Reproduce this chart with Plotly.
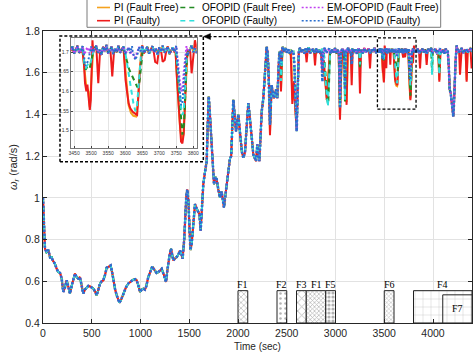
import plotly.graph_objects as go

# ---------------- data ----------------
# shared rotor-speed trace (all six controllers overlap until ~2300 s)
early = [(0, 1.00), (8, 0.85), (20, 0.757), (35, 0.74), (55, 0.75), (72, 0.715), (89, 0.716),
         (99, 0.70), (123, 0.684), (140, 0.66), (157, 0.644), (175, 0.64), (191, 0.615),
         (208, 0.549), (225, 0.57), (243, 0.605), (260, 0.57), (277, 0.541), (295, 0.58),
         (310, 0.61), (328, 0.637), (345, 0.62), (362, 0.613), (379, 0.62), (395, 0.58),
         (413, 0.541), (430, 0.56), (447, 0.57), (465, 0.578), (482, 0.575), (500, 0.57),
         (516, 0.565), (535, 0.55), (550, 0.533), (568, 0.56), (585, 0.589), (602, 0.60),
         (619, 0.605), (636, 0.63), (653, 0.665), (675, 0.67), (694, 0.676), (710, 0.64),
         (721, 0.605), (740, 0.56), (756, 0.533), (770, 0.51), (783, 0.497), (800, 0.51),
         (824, 0.541), (850, 0.57), (875, 0.589), (900, 0.60), (926, 0.608), (945, 0.61),
         (960, 0.605), (978, 0.58), (995, 0.549), (1012, 0.56), (1030, 0.565), (1045, 0.56),
         (1057, 0.573), (1080, 0.62), (1100, 0.65), (1121, 0.671), (1135, 0.66), (1149, 0.652),
         (1165, 0.64), (1183, 0.644), (1200, 0.65), (1217, 0.66), (1240, 0.63), (1262, 0.597),
         (1275, 0.65), (1286, 0.70), (1300, 0.73), (1313, 0.756), (1325, 0.73), (1337, 0.70),
         (1355, 0.71), (1371, 0.716), (1390, 0.73), (1405, 0.748), (1420, 0.73), (1432, 0.708),
         (1448, 0.80), (1460, 0.93), (1470, 1.01), (1480, 1.04), (1492, 0.98), (1503, 0.85),
         (1512, 0.75), (1525, 0.78), (1540, 0.86), (1559, 0.97), (1575, 0.95), (1593, 0.935),
         (1605, 0.92), (1617, 0.843), (1630, 0.95), (1644, 1.065), (1660, 1.12), (1679, 1.176),
         (1690, 1.36), (1700, 1.486), (1712, 1.40), (1730, 1.271), (1745, 1.13), (1754, 1.065),
         (1768, 1.10), (1781, 1.09), (1798, 1.04), (1815, 1.001), (1832, 1.03), (1845, 0.98),
         (1856, 0.954), (1870, 1.01), (1884, 1.065), (1900, 1.13), (1918, 1.19), (1930, 1.20),
         (1940, 1.30), (1952, 1.47), (1965, 1.40), (1980, 1.319), (2003, 1.399), (2015, 1.33),
         (2027, 1.271), (2040, 1.22), (2055, 1.192), (2072, 1.22), (2090, 1.35), (2106, 1.454),
         (2118, 1.40), (2130, 1.351), (2145, 1.27), (2157, 1.208), (2170, 1.19), (2185, 1.176),
         (2198, 1.256), (2210, 1.21), (2219, 1.176), (2232, 1.30), (2243, 1.414), (2260, 1.478),
         (2277, 1.60), (2294, 1.724), (2303, 1.70), (2311, 1.637), (2320, 1.48), (2328, 1.35),
         (2337, 1.45), (2345, 1.541), (2357, 1.50), (2369, 1.478), (2380, 1.50), (2390, 1.52),
         (2397, 1.50), (2403, 1.478), (2414, 1.60), (2424, 1.70), (2432, 1.70), (2441, 1.64),
         (2450, 1.70), (2458, 1.724)]

# rated-speed band (~1.70) after 2460 s, sampled every 15 s / 5 s (inset window) / 15 s
t_late_a = list(range(2470, 3440, 15))
w_late_a = [1.700, 1.718, 1.696, 1.712, 1.692, 1.706, 1.698, 1.716, 1.694, 1.708, 1.698, 1.719, 1.700,
            1.710, 1.692, 1.716, 1.698, 1.722, 1.694, 1.704, 1.714, 1.692, 1.716, 1.698, 1.710, 1.690,
            1.714, 1.700, 1.720, 1.694, 1.706, 1.716, 1.693, 1.710, 1.698, 1.718, 1.694, 1.705, 1.714,
            1.698, 1.716, 1.692, 1.710, 1.700, 1.720, 1.694, 1.706, 1.716, 1.698, 1.711, 1.691, 1.717,
            1.699, 1.709, 1.693, 1.718, 1.698, 1.706, 1.715, 1.694, 1.710, 1.700, 1.719, 1.695, 1.706]
t_late_b = list(range(3440, 3815, 5))
w_late_b = [1.705, 1.714, 1.696, 1.708, 1.716, 1.698, 1.703, 1.715, 1.694, 1.706, 1.712, 1.697, 1.714, 1.700, 1.708,
            1.716, 1.698, 1.706, 1.693, 1.713, 1.702, 1.718, 1.696, 1.707, 1.714, 1.695, 1.709, 1.700, 1.716, 1.698,
            1.708, 1.714, 1.695, 1.706, 1.712, 1.698, 1.715, 1.700, 1.709, 1.694, 1.713, 1.702, 1.717, 1.697, 1.707,
            1.713, 1.696, 1.706, 1.715, 1.699, 1.709, 1.693, 1.712, 1.701, 1.716, 1.698, 1.708, 1.714, 1.695, 1.705,
            1.712, 1.700, 1.716, 1.697, 1.707, 1.713, 1.698, 1.708, 1.715, 1.696, 1.706, 1.717, 1.700, 1.709, 1.698]
t_late_c = list(range(3815, 4401, 15))
w_late_c = [1.710, 1.698, 1.716, 1.693, 1.706, 1.715, 1.698, 1.711, 1.691, 1.714,
            1.701, 1.719, 1.695, 1.708, 1.715, 1.694, 1.706, 1.717, 1.697, 1.710,
            1.692, 1.715, 1.700, 1.720, 1.698, 1.709, 1.716, 1.693, 1.705, 1.714,
            1.698, 1.711, 1.718, 1.694, 1.706, 1.715, 1.697, 1.708, 1.717, 1.700]

# speed dips common to all controllers
shared_dips = [
    [(2568, 1.70), (2578, 1.64), (2588, 1.52), (2596, 1.40), (2602, 1.32), (2609, 1.45), (2616, 1.60), (2624, 1.70)],
    [(4152, 1.70), (4162, 1.63), (4171, 1.52), (4182, 1.50), (4194, 1.45), (4203, 1.40), (4208, 1.39),
     (4214, 1.44), (4222, 1.55), (4232, 1.66), (4243, 1.73)],
]

# controller-specific dips
dips_pi_ff = [
    [(2318, 1.56), (2328, 1.31), (2337, 1.44)],
    [(2430, 1.69), (2441, 1.52), (2452, 1.70)],
    [(2545, 1.70), (2557, 1.47), (2568, 1.55), (2588, 1.43), (2602, 1.33), (2612, 1.52), (2622, 1.70)],
    [(2855, 1.70), (2870, 1.62), (2895, 1.56), (2910, 1.48), (2930, 1.61), (2942, 1.70)],
    [(3032, 1.70), (3046, 1.39), (3064, 1.70)],
    [(3088, 1.70), (3114, 1.46), (3124, 1.70)],
    [(3475, 1.70), (3482, 1.63), (3486, 1.61), (3492, 1.60), (3496, 1.56), (3502, 1.65), (3506, 1.70)],
    [(3596, 1.70), (3603, 1.625), (3610, 1.565), (3617, 1.545), (3624, 1.538), (3632, 1.536), (3637, 1.57),
     (3643, 1.66), (3649, 1.70)],
    [(3748, 1.70), (3755, 1.59), (3761, 1.51), (3766, 1.475), (3771, 1.49), (3776, 1.58), (3783, 1.70)],
    [(4054, 1.70), (4065, 1.565), (4076, 1.70)],
    [(4335, 1.70), (4345, 1.565), (4355, 1.70)],
]
dips_pi_faulty = [
    [(2318, 1.55), (2328, 1.30), (2337, 1.43)],
    [(2430, 1.68), (2441, 1.51), (2452, 1.70)],
    [(2540, 1.70), (2550, 1.56), (2557, 1.45), (2565, 1.50), (2575, 1.56), (2588, 1.42), (2602, 1.33),
     (2612, 1.52), (2622, 1.70)],
    [(2693, 1.70), (2704, 1.65), (2713, 1.70)],
    [(2780, 1.70), (2790, 1.635), (2800, 1.70)],
    [(2850, 1.70), (2866, 1.60), (2880, 1.66), (2895, 1.55), (2910, 1.47), (2920, 1.50), (2930, 1.60), (2942, 1.70)],
    [(3032, 1.70), (3040, 1.52), (3046, 1.375), (3055, 1.55), (3064, 1.70)],
    [(3088, 1.70), (3097, 1.56), (3105, 1.50), (3114, 1.446), (3124, 1.70)],
    [(3156, 1.70), (3166, 1.54), (3176, 1.70)],
    [(3240, 1.70), (3251, 1.50), (3262, 1.70)],
    [(3344, 1.70), (3354, 1.62), (3364, 1.70)],
    [(3475, 1.70), (3479, 1.67), (3482, 1.621), (3486, 1.60), (3489, 1.617), (3492, 1.591), (3496, 1.553),
     (3499, 1.578), (3502, 1.646), (3504, 1.73), (3506, 1.70)],
    [(3516, 1.70), (3521, 1.621), (3526, 1.70)],
    [(3557, 1.70), (3562, 1.638), (3567, 1.70)],
    [(3596, 1.70), (3601, 1.629), (3606, 1.595), (3610, 1.57), (3615, 1.557), (3622, 1.548), (3628, 1.544),
     (3635, 1.54), (3638, 1.578), (3641, 1.621), (3644, 1.663), (3649, 1.697)],
    [(3684, 1.70), (3688, 1.675), (3694, 1.672), (3699, 1.70)],
    [(3706, 1.70), (3710, 1.675), (3716, 1.68), (3720, 1.70)],
    [(3748, 1.70), (3751, 1.646), (3756, 1.578), (3761, 1.501), (3764, 1.472), (3768, 1.468), (3772, 1.493),
     (3776, 1.578), (3779, 1.663), (3783, 1.706)],
    [(3791, 1.70), (3795, 1.646), (3800, 1.697), (3805, 1.73), (3810, 1.71)],
    [(3857, 1.70), (3867, 1.62), (3877, 1.70)],
    [(3925, 1.70), (3935, 1.637), (3945, 1.70)],
    [(4054, 1.70), (4065, 1.557), (4076, 1.70)],
    [(4268, 1.70), (4277, 1.59), (4287, 1.70)],
    [(4335, 1.70), (4345, 1.557), (4355, 1.70)],
    [(4386, 1.70), (4396, 1.62), (4400, 1.66)],
]
dips_ofopid_ff = [
    [(2430, 1.69), (2441, 1.58), (2452, 1.70)],
    [(2880, 1.70), (2900, 1.58), (2915, 1.47), (2926, 1.45), (2935, 1.60), (2945, 1.70)],
    [(3035, 1.70), (3046, 1.45), (3056, 1.70)],
    [(3088, 1.70), (3097, 1.462), (3106, 1.70)],
    [(3243, 1.70), (3251, 1.62), (3260, 1.70)],
    [(3476, 1.70), (3480, 1.67), (3484, 1.655), (3490, 1.665), (3496, 1.66), (3502, 1.69), (3506, 1.70)],
    [(3598, 1.70), (3605, 1.68), (3612, 1.655), (3620, 1.64), (3628, 1.625), (3636, 1.61), (3642, 1.625),
     (3646, 1.665), (3651, 1.70)],
    [(3749, 1.70), (3753, 1.66), (3758, 1.60), (3763, 1.53), (3768, 1.49), (3773, 1.52), (3777, 1.60),
     (3781, 1.68), (3785, 1.70)],
    [(3982, 1.70), (3990, 1.60), (3998, 1.70)],
    [(4055, 1.70), (4065, 1.60), (4075, 1.70)],
]
dips_ofopid_faulty = [
    [(2430, 1.69), (2441, 1.56), (2452, 1.70)],
    [(2880, 1.70), (2898, 1.56), (2912, 1.48), (2922, 1.438), (2932, 1.55), (2945, 1.70)],
    [(3035, 1.70), (3046, 1.43), (3056, 1.70)],
    [(3088, 1.70), (3097, 1.47), (3106, 1.70)],
    [(3243, 1.70), (3251, 1.64), (3260, 1.70)],
    [(3477, 1.70), (3481, 1.665), (3485, 1.66), (3490, 1.668), (3496, 1.665), (3502, 1.69), (3506, 1.70)],
    [(3600, 1.70), (3606, 1.665), (3612, 1.64), (3618, 1.60), (3624, 1.57), (3630, 1.55), (3634, 1.555),
     (3638, 1.60), (3642, 1.65), (3647, 1.70)],
    [(3750, 1.70), (3754, 1.66), (3759, 1.60), (3764, 1.56), (3768, 1.54), (3772, 1.55), (3776, 1.61),
     (3780, 1.68), (3784, 1.70)],
    [(3982, 1.70), (3990, 1.59), (3998, 1.70)],
    [(4055, 1.70), (4065, 1.59), (4075, 1.70)],
]
dips_em_ff = [
    [(2432, 1.70), (2441, 1.66), (2450, 1.70)],
    [(2855, 1.70), (2862, 1.62), (2870, 1.70)],
    [(3038, 1.70), (3046, 1.50), (3054, 1.70)],
    [(3620, 1.70), (3628, 1.685), (3636, 1.70)],
    [(3752, 1.70), (3756, 1.66), (3761, 1.62), (3765, 1.60), (3769, 1.615), (3773, 1.66), (3777, 1.70)],
]
dips_em_faulty = [
    [(2432, 1.70), (2441, 1.64), (2450, 1.70)],
    [(2855, 1.70), (2866, 1.557), (2875, 1.70)],
    [(3036, 1.70), (3046, 1.43), (3056, 1.70)],
    [(3090, 1.70), (3097, 1.52), (3104, 1.70)],
    [(3158, 1.70), (3166, 1.64), (3174, 1.70)],
    [(3478, 1.70), (3482, 1.665), (3487, 1.67), (3492, 1.68), (3497, 1.70)],
    [(3622, 1.70), (3630, 1.68), (3638, 1.70)],
    [(3751, 1.70), (3755, 1.66), (3760, 1.60), (3764, 1.565), (3768, 1.57), (3772, 1.62), (3777, 1.68),
     (3781, 1.70)],
]

series_names = ["PI (Fault Free)", "PI (Faulty)", "OFOPID (Fault Free)", "OFOPID (Faulty)",
                "EM-OFOPID (Fault Free)", "EM-OFOPID (Faulty)"]
series_dips = [dips_pi_ff, dips_pi_faulty, dips_ofopid_ff, dips_ofopid_faulty, dips_em_ff, dips_em_faulty]
series_colors = ["#F5A21E", "#EE1C1C", "#238B23", "#30E0DC", "#C040F0", "#2A6FCF"]
series_dash = ["solid", "solid", "5px,4px", "5px,4px", "2px,2px", "2px,2px"]
series_width = [2, 2, 2, 2, 2, 2.6]

# fault intervals
fault_labels = ["F1", "F2", "F3", "F1", "F5", "F6", "F4", "F7"]
fault_start = [2000, 2400, 2600, 2700, 2900, 3500, 3800, 4100]
fault_end = [2100, 2500, 2700, 2900, 3000, 3600, 4400, 4400]
fault_top = [0.555, 0.555, 0.555, 0.555, 0.555, 0.555, 0.555, 0.535]
fault_shape = ["x", ".", "x", "x", ".", "x", "+", "+"]
fault_psize = [4, 5, 6, 3, 4, 3, 8, 8]
fault_psolid = [0.3, 0.2, 0.25, 0.4, 0.5, 0.3, 0.08, 0.08]

# ---------------- build series ----------------
t_base = [p[0] for p in early] + t_late_a + t_late_b + t_late_c
w_base = [p[1] for p in early] + w_late_a + w_late_b + w_late_c


def build(extra):
    pts = {t: v for t, v in zip(t_base, w_base)}
    for seg in shared_dips + extra:
        t0, t1 = seg[0][0], seg[-1][0]
        pts = {t: v for t, v in pts.items() if not (t0 <= t <= t1)}
        for t, v in seg:
            pts[t] = v
    ts = sorted(pts)
    return ts, [pts[t] for t in ts]


FONT = "Liberation Sans, Arial, sans-serif"
fig = go.Figure()

# fault bars
centers = [(s + e) / 2 for s, e in zip(fault_start, fault_end)]
widths = [e - s for s, e in zip(fault_start, fault_end)]
heights = [t - 0.4 for t in fault_top]
fig.add_trace(go.Bar(
    x=centers, y=heights, base=0.4, width=widths,
    marker=dict(color="white", line=dict(color="#222", width=1),
                pattern=dict(shape=fault_shape, size=fault_psize, solidity=fault_psolid,
                             fgcolor="#666", bgcolor="white")),
    showlegend=False, hoverinfo="skip"))

built = [build(d) for d in series_dips]

for (ts, ws), name, col, dash, wd in zip(built, series_names, series_colors, series_dash, series_width):
    fig.add_trace(go.Scatter(x=ts, y=ws, mode="lines", name=name,
                             line=dict(color=col, width=wd, dash=dash),
                             showlegend=False, hoverinfo="skip"))

# cover subplot (white background behind the inset frame)
fig.add_trace(go.Scatter(x=[0], y=[0], xaxis="x2", yaxis="y2", mode="markers",
                         marker=dict(opacity=0), showlegend=False, hoverinfo="skip"))

# inset traces
for (ts, ws), name, col, dash in zip(built, series_names, series_colors, series_dash):
    fig.add_trace(go.Scatter(x=ts, y=ws, mode="lines", name=name, xaxis="x3", yaxis="y3",
                             line=dict(color=col, width=2, dash=dash),
                             showlegend=False, hoverinfo="skip"))

axis_common = dict(showline=True, linecolor="#262626", linewidth=1, ticks="inside", ticklen=4,
                   tickcolor="#262626", mirror="ticks", zeroline=False, showgrid=True,
                   gridcolor="#e2e2e2", gridwidth=1, automargin=False,
                   tickfont=dict(family=FONT, size=10.5, color="#262626"))

fig.update_layout(
    width=474, height=353, margin=dict(l=43, r=2, t=31, b=30),
    paper_bgcolor="white", plot_bgcolor="white", showlegend=False, barmode="overlay",
    font=dict(family=FONT, size=10.5, color="#262626"),
    xaxis=dict(range=[0, 4400], tickvals=list(range(0, 4001, 500)), **axis_common),
    yaxis=dict(range=[0.4, 1.8], tickvals=[0.4, 0.6, 0.8, 1.0, 1.2, 1.4, 1.6, 1.8],
               ticktext=["0.4", "0.6", "0.8", "1", "1.2", "1.4", "1.6", "1.8"], **axis_common),
    xaxis2=dict(domain=[0.0396, 0.3737], anchor="y2", visible=False, range=[0, 1], fixedrange=True),
    yaxis2=dict(domain=[0.5524, 0.9829], anchor="x2", visible=False, range=[0, 1], fixedrange=True),
    xaxis3=dict(domain=[0.0646, 0.3583], anchor="y3", range=[3440, 3810],
                tickvals=list(range(3450, 3801, 50)), ticks="inside", ticklen=2,
                showline=True, mirror=True, linecolor="#777", linewidth=1, zeroline=False,
                showgrid=True, gridcolor="#e4e4e4", automargin=False,
                tickfont=dict(family=FONT, size=5, color="#333")),
    yaxis3=dict(domain=[0.598, 0.975], anchor="x3", range=[1.455, 1.735],
                tickvals=[1.5, 1.55, 1.6, 1.65, 1.7], ticktext=["1.5", "1.55", "1.6", "1.65", "1.7"],
                ticks="inside", ticklen=2, showline=True, mirror=True, linecolor="#777", linewidth=1,
                zeroline=False, showgrid=True, gridcolor="#e4e4e4", automargin=False,
                tickfont=dict(family=FONT, size=5, color="#333")),
)

shapes = []
# inset outer dashed frame
shapes.append(dict(type="rect", xref="paper", yref="paper", x0=0.0396, x1=0.3737, y0=0.5524, y1=0.9829,
                   line=dict(color="black", width=1.5, dash="3px,2px")))
# zoom window on the main axes
shapes.append(dict(type="rect", xref="x", yref="y", x0=3430, x1=3826, y0=1.425, y1=1.767,
                   line=dict(color="black", width=1.3, dash="3px,2px")))
# dashed connector toward the inset, with a filled arrow head
shapes.append(dict(type="line", xref="paper", yref="paper", x0=0.3860, x1=0.7793, y0=0.981, y1=0.981,
                   line=dict(color="black", width=1.3, dash="3px,2px")))
shapes.append(dict(type="path", xref="paper", yref="paper",
                   path="M 0.3740 0.981 L 0.3905 0.9915 L 0.3905 0.9705 Z",
                   fillcolor="black", line=dict(color="black", width=0.5)))

# legend (drawn manually to match the original layout)
shapes.append(dict(type="rect", xref="paper", yref="paper", x0=0.1026, x1=0.927, y0=1.0127, y1=1.12,
                   line=dict(color="#7a7a7a", width=1), fillcolor="white"))
leg_cols = [(0.1259, 0.1562, 0.1608), (0.3201, 0.3567, 0.3660), (0.6030, 0.6535, 0.6573)]
leg_rows = [1.0805, 1.0353]
annotations = []
leg_order = [(0, 0, 0), (1, 1, 0), (2, 0, 1), (3, 1, 1), (4, 0, 2), (5, 1, 2)]
for idx, row, colno in leg_order:
    x0, x1, xt = leg_cols[colno]
    yy = leg_rows[row]
    shapes.append(dict(type="line", xref="paper", yref="paper", x0=x0, x1=x1, y0=yy, y1=yy,
                       line=dict(color=series_colors[idx], width=1.6, dash=series_dash[idx])))
    annotations.append(dict(xref="paper", yref="paper", x=xt, y=yy, text=series_names[idx],
                            showarrow=False, xanchor="left", yanchor="middle",
                            font=dict(family=FONT, size=10, color="black")))

# fault labels
SERIF = "Liberation Serif, Times New Roman, serif"
for lab, c, top in zip(fault_labels, centers, fault_top):
    if lab == "F7":
        annotations.append(dict(xref="x", yref="y", x=c, y=(top + 0.4) / 2, text=lab, showarrow=False,
                                xanchor="center", yanchor="middle",
                                font=dict(family=SERIF, size=10, color="black")))
    else:
        annotations.append(dict(xref="x", yref="y", x=c, y=top, text=lab, showarrow=False,
                                xanchor="center", yanchor="bottom", yshift=-1,
                                font=dict(family=SERIF, size=10, color="black")))

# axis titles
annotations.append(dict(xref="paper", yref="paper", x=0.5, y=-0.079, text="Time (sec)", showarrow=False,
                        xanchor="center", yanchor="middle", font=dict(family=FONT, size=10, color="#262626")))
annotations.append(dict(xref="paper", yref="paper", x=-0.0676, y=0.534,
                        text="<i>ω<sub>r</sub></i> (rad/s)", textangle=-90, showarrow=False,
                        xanchor="center", yanchor="middle", font=dict(family=FONT, size=11, color="#262626")))

fig.update_layout(shapes=shapes, annotations=annotations)
fig.write_html("out.html")
